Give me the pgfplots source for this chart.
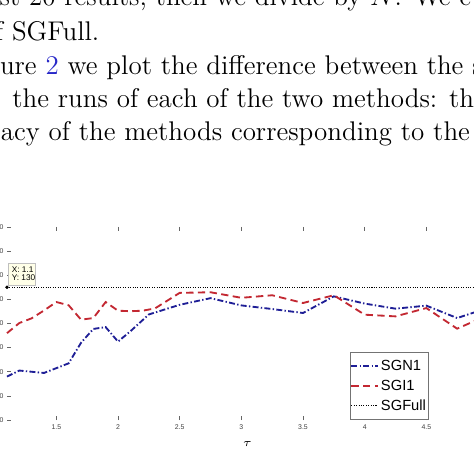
\documentclass[border=0pt]{standalone}
\usepackage{fontspec}
\usepackage{xcolor}
\usepackage{pgfplots}
\pgfplotsset{compat=1.18}
\newfontfamily\arial{Liberation Sans}

\definecolor{sgnblue}{RGB}{30,30,150}
\definecolor{sgired}{RGB}{195,40,50}
\definecolor{linkblue}{RGB}{40,40,200}
\definecolor{tipfill}{RGB}{255,255,232}

% 1 px of the reference = 0.435pt
\begin{document}
\begin{tikzpicture}
\clip (0,0) rectangle (206.19pt,-206.19pt);
\fill[white] (0,0) rectangle (206.19pt,-206.19pt);

% running text of the page above the figure
\begin{scope}[every node/.style={anchor=base west, inner sep=0pt, font=\fontsize{11.75}{14}\selectfont}]
\node at (-0.4pt,-2.2pt) {st 20 results, then we divide by $N$. We c};
\node at (-2.3pt,-17.7pt) {f SGFull.};
\node at (-0.2pt,-32.2pt) {ure {\color{linkblue}2} we plot the difference between the sm};
\node at (5.2pt,-46.7pt) {the runs of each of the two methods: the};
\node at (0.2pt,-61.1pt) {acy of the methods corresponding to the};
\end{scope}

\begin{axis}[
    at={(3.045pt,-182.70pt)}, anchor=south west,
    scale only axis,
    width=209.24pt, height=83.96pt,
    xmin=1.1, xmax=5, ymin=20, ymax=180,
    xtick={1.5,2,2.5,3,3.5,4,4.5,5},
    ytick={20,40,...,180},
    axis line style={draw=none},
    tick align=inside,
    major tick length=1.7pt,
    tick style={black!60, line width=0.3pt},
    /pgf/number format/assume math mode=true,
    ticklabel style={font=\arial\fontsize{3}{3.2}\selectfont, text=black!75},
    xticklabel style={inner sep=0pt, yshift=-2.0pt},
    yticklabel style={inner sep=0pt, xshift=-1.3pt},
    xlabel={$\tau$},
    xlabel style={at={(axis description cs:0.5,0)}, anchor=base, yshift=-11.6pt, font=\fontsize{5}{5.5}\selectfont},
    legend style={at={(axis description cs:0.713,0.352)}, anchor=north west,
        name=leg, draw=none, fill=white,
        font=\arial\fontsize{6.4}{7}\selectfont,
        nodes={inner sep=1pt, text height=4.6pt, text depth=0pt},
        inner xsep=0pt, inner ysep=2.4pt, row sep=2.1pt},
    legend cell align=left,
    legend image code/.code={\draw[#1] (-0.6pt,0pt) -- (10.9pt,0pt);},
    clip=false,
]

% SGN1
\addplot[sgnblue, line width=0.8pt, dash pattern=on 2.6pt off 1.0pt on 0.6pt off 1.0pt] coordinates {
    (1.1,56) (1.2,61) (1.3,60) (1.4,59) (1.5,63) (1.6,67) (1.7,84) (1.8,95.5) (1.9,97) (2.0,85)
    (2.1,93.5) (2.25,107.5) (2.5,115.5) (2.75,121) (3.0,115) (3.25,112) (3.5,108.7) (3.75,122.5)
    (4.0,116.5) (4.25,112.3) (4.5,114.8) (4.75,104.5) (5.0,113)
};
% SGI1
\addplot[sgired, line width=0.8pt, dash pattern=on 3.2pt off 1.9pt] coordinates {
    (1.1,92) (1.2,100.4) (1.3,104.3) (1.4,110.8) (1.5,117.8) (1.6,115.1) (1.7,103.2) (1.8,104.5)
    (1.9,117.8) (2.0,110.6) (2.1,110.2) (2.2,110.6) (2.3,112.5) (2.5,125.4) (2.75,125.9) (3.0,121.3)
    (3.25,123.4) (3.5,117) (3.75,123.4) (4.0,107.3) (4.25,105.9) (4.5,112.8) (4.75,95.7) (5.0,107)
};
% SGFull
\addplot[black, line width=0.7pt, dash pattern=on 0.45pt off 0.6pt] coordinates {
    (1.1,130) (5.0,130)
};
\legend{SGN1, SGI1, SGFull}

% data tip
\addplot[black, only marks, mark=*, mark size=0.55pt, forget plot] coordinates {(1.1,130)};
\draw[black!25, fill=tipfill, line width=0.25pt] (axis cs:1.108,131.7) rectangle (axis cs:1.327,149.9);
\node[anchor=base west, inner sep=0pt, font=\arial\fontsize{3.6}{4}\selectfont] at (axis cs:1.135,142.5) {X: 1.1};
\node[anchor=base west, inner sep=0pt, font=\arial\fontsize{3.6}{4}\selectfont] at (axis cs:1.135,135.6) {Y: 130};
\end{axis}
\draw[black!55, line width=0.3pt] (leg.south west) rectangle (leg.north east);
\end{tikzpicture}
\end{document}
